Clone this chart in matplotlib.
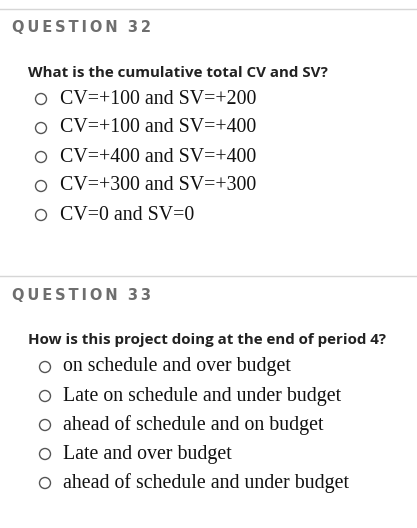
import matplotlib.pyplot as plt
from matplotlib.patches import Circle

W, H = 417, 528

q_headers = ["QUESTION 32", "QUESTION 33"]
q_prompts = ["What is the cumulative total CV and SV?",
             "How is this project doing at the end of period 4?"]
q_options = [
    ["CV=+100 and SV=+200", "CV=+100 and SV=+400", "CV=+400 and SV=+400",
     "CV=+300 and SV=+300", "CV=0 and SV=0"],
    ["on schedule and over budget", "Late on schedule and under budget",
     "ahead of schedule and on budget", "Late and over budget",
     "ahead of schedule and under budget"],
]

# layout (pixel positions, top-down)
sep_y = [9, 276]
header_y = [28, 295]
prompt_y = [73, 340]
opt_y0 = [99, 367]
opt_step = 29
circle_x = [41, 45]
text_x = [60, 63]

fig = plt.figure(figsize=(W / 100, H / 100), dpi=100)
ax = fig.add_axes([0, 0, 1, 1])
ax.set_xlim(0, W)
ax.set_ylim(H, 0)
ax.axis('off')

for i in range(2):
    ax.plot([0, W], [sep_y[i], sep_y[i]], color='#d6d6d6', lw=1)
    ax.text(12, header_y[i], "\u2009".join(q_headers[i]).replace("\u2009 \u2009", "  "),
            fontsize=10.5, fontweight='bold', color='#6e6e6e',
            family='DejaVu Sans', va='center')
    ax.text(28, prompt_y[i], q_prompts[i], fontsize=10.9, fontweight='bold',
            color='#222222', family='Open Sans', va='center')
    for j, opt in enumerate(q_options[i]):
        y = opt_y0[i] + j * opt_step
        ax.add_patch(Circle((circle_x[i], y), 5.5, fill=False, ec='#555555', lw=1))
        ax.text(text_x[i], y, opt, fontsize=14.3, color='#111111',
                family='Liberation Serif', va='center')

fig.savefig('out.png', dpi=100)
